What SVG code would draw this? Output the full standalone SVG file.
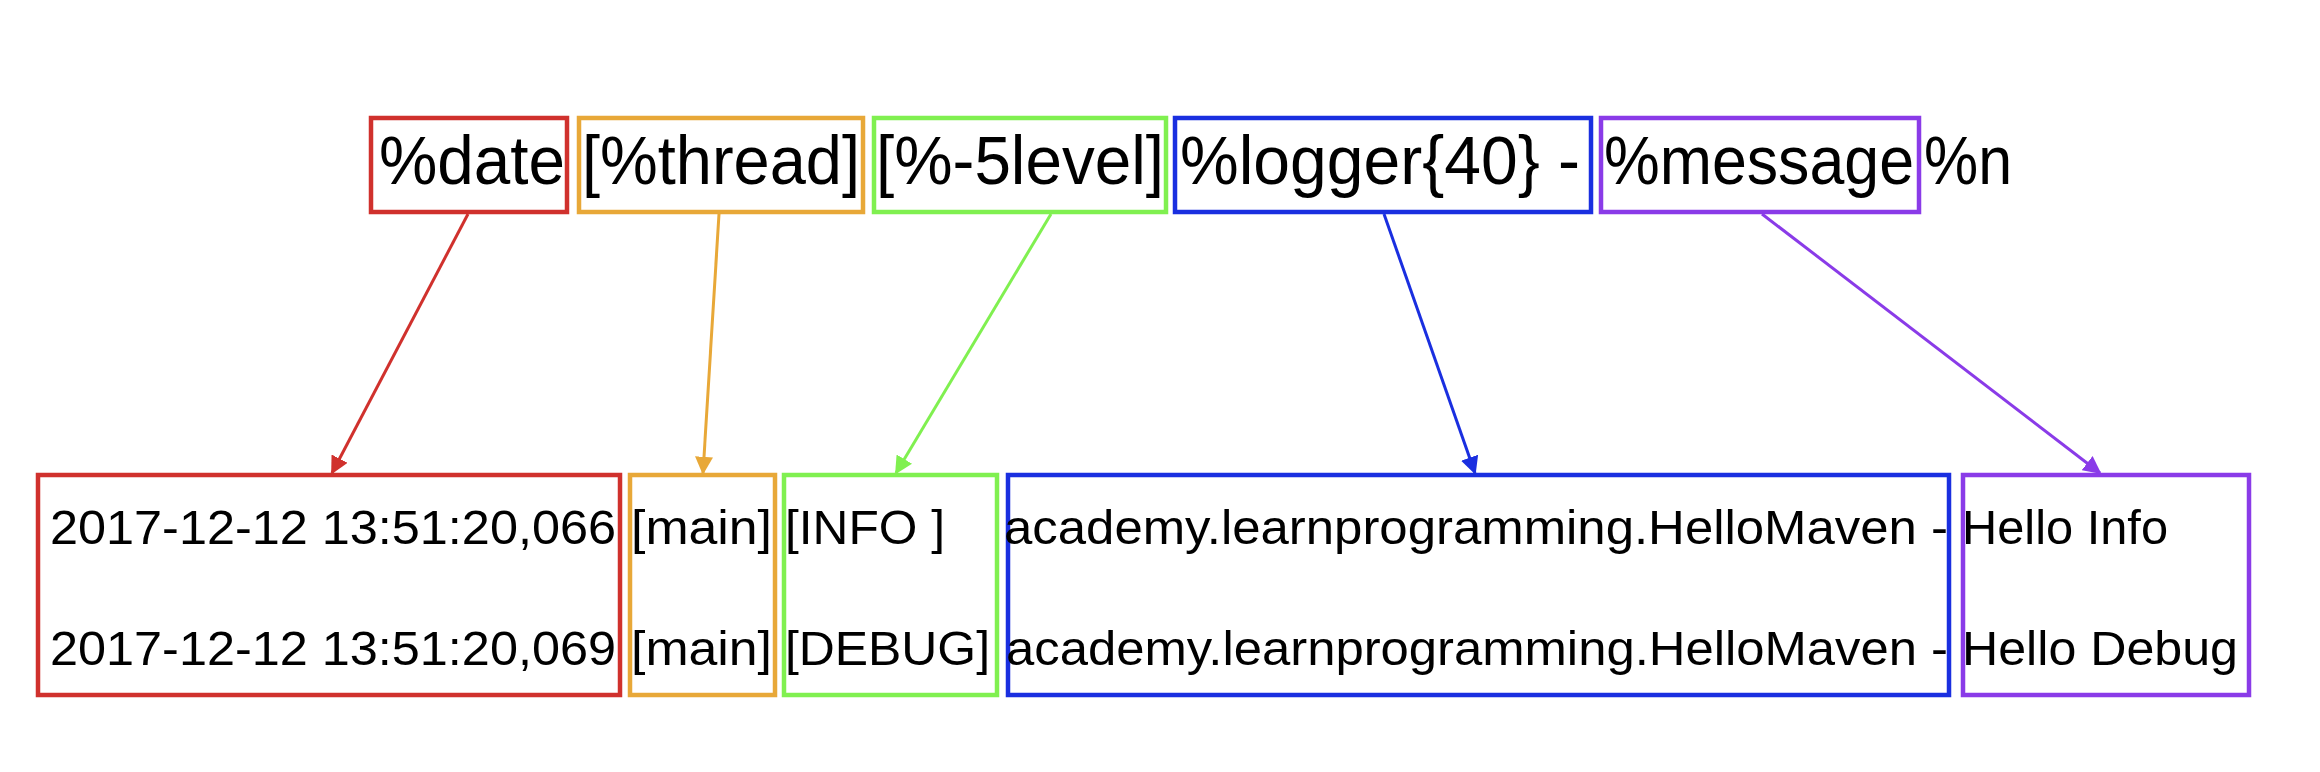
<svg xmlns="http://www.w3.org/2000/svg" width="2320" height="772" viewBox="0 0 2320 772">
<style>
rect{fill:none;stroke-width:4.5}
text{font-family:"Liberation Sans",Arial,sans-serif;fill:#000}
.t{font-size:68px}
.b{font-size:48px}
line{stroke-width:3}
</style>
<defs>
<marker id="ar" viewBox="0 0 10 10" refX="9" refY="5" markerWidth="6" markerHeight="6" orient="auto"><path d="M0,0L10,5L0,10z" fill="context-stroke"/></marker>
</defs>
<rect width="2320" height="772" fill="#fff" stroke="none"/>
<g id="date"><rect x="371" y="118" width="196" height="94" stroke="#d0312d"/><text class="t" x="379" y="184" textLength="186" lengthAdjust="spacingAndGlyphs">%date</text></g>
<g id="thread"><rect x="579" y="118" width="284" height="94" stroke="#e8a838"/><text class="t" x="582" y="184" textLength="278" lengthAdjust="spacingAndGlyphs">[%thread]</text></g>
<g id="level"><rect x="874" y="118" width="292" height="94" stroke="#80f050"/><text class="t" x="876" y="184" textLength="288" lengthAdjust="spacingAndGlyphs">[%-5level]</text></g>
<g id="logger"><rect x="1175" y="118" width="416" height="94" stroke="#1a2fe0"/><text class="t" x="1180" y="184" textLength="400" lengthAdjust="spacingAndGlyphs">%logger{40} -</text></g>
<g id="message"><rect x="1601" y="118" width="318" height="94" stroke="#8a3be8"/><text class="t" x="1604" y="184" textLength="310" lengthAdjust="spacingAndGlyphs">%message</text></g>
<text class="t" x="1924" y="184" textLength="88" lengthAdjust="spacingAndGlyphs">%n</text>
<g id="c-date"><rect x="38" y="475" width="582" height="220" stroke="#d0312d"/><text class="b" x="50" y="544" textLength="566" lengthAdjust="spacingAndGlyphs">2017-12-12 13:51:20,066</text><text class="b" x="50" y="665" textLength="566" lengthAdjust="spacingAndGlyphs">2017-12-12 13:51:20,069</text></g>
<g id="c-thread"><rect x="630" y="475" width="145" height="220" stroke="#e8a838"/><text class="b" x="631" y="544" textLength="141" lengthAdjust="spacingAndGlyphs">[main]</text><text class="b" x="631" y="665" textLength="141" lengthAdjust="spacingAndGlyphs">[main]</text></g>
<g id="c-level"><rect x="784" y="475" width="213" height="220" stroke="#80f050"/><text class="b" x="785" y="544" textLength="160" lengthAdjust="spacingAndGlyphs">[INFO ]</text><text class="b" x="785" y="665" textLength="205" lengthAdjust="spacingAndGlyphs">[DEBUG]</text></g>
<g id="c-logger"><rect x="1008" y="475" width="941" height="220" stroke="#1a2fe0"/><text class="b" x="1004" y="544" textLength="944" lengthAdjust="spacingAndGlyphs">academy.learnprogramming.HelloMaven -</text><text class="b" x="1006" y="665" textLength="942" lengthAdjust="spacingAndGlyphs">academy.learnprogramming.HelloMaven -</text></g>
<g id="c-message"><rect x="1963" y="475" width="286" height="220" stroke="#8a3be8"/><text class="b" x="1962" y="544" textLength="206" lengthAdjust="spacingAndGlyphs">Hello Info</text><text class="b" x="1962" y="665" textLength="276" lengthAdjust="spacingAndGlyphs">Hello Debug</text></g>
<g id="connectors">
<line x1="468" y1="214" x2="332" y2="473" stroke="#d0312d" marker-end="url(#ar)"/>
<line x1="719" y1="214" x2="703" y2="473" stroke="#e8a838" marker-end="url(#ar)"/>
<line x1="1051" y1="214" x2="896" y2="473" stroke="#80f050" marker-end="url(#ar)"/>
<line x1="1384" y1="214" x2="1475" y2="473" stroke="#1a2fe0" marker-end="url(#ar)"/>
<line x1="1762" y1="214" x2="2100" y2="473" stroke="#8a3be8" marker-end="url(#ar)"/>
</g>
</svg>
